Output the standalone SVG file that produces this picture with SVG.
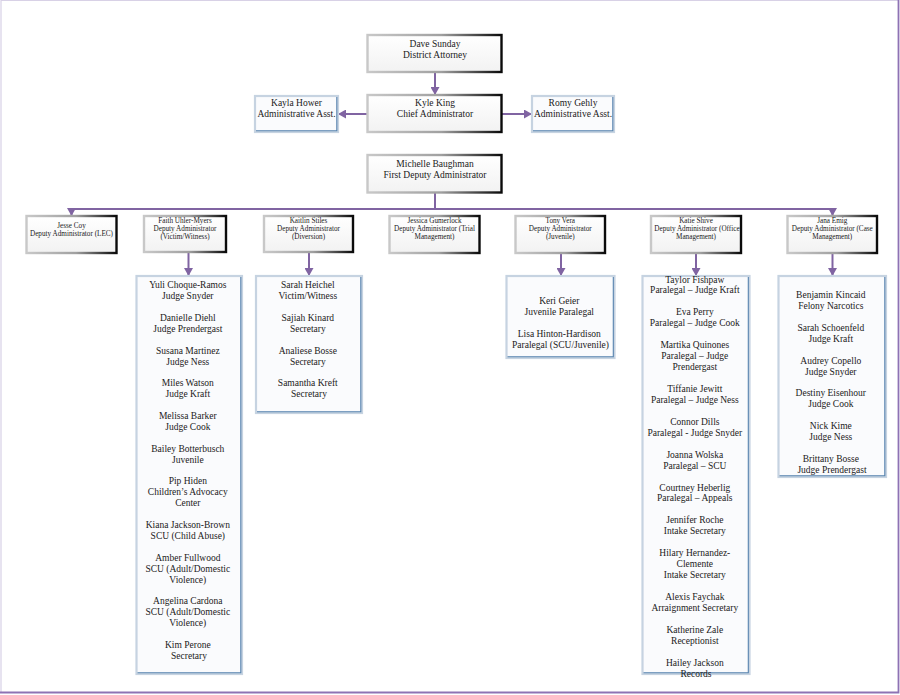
<svg xmlns="http://www.w3.org/2000/svg" width="900" height="695" viewBox="0 0 900 695">
<defs>
<style>
.t{font-family:"Liberation Serif","Times New Roman",serif;font-size:9.5px;fill:#1a1a1a;text-anchor:middle}
.d{font-family:"Liberation Serif","Times New Roman",serif;font-size:7.2px;fill:#1a1a1a;text-anchor:middle}
.bx{fill:url(#gfill);stroke:url(#gstroke);stroke-width:2.4}
.sb{fill:#fafbfd;stroke:#c6d3e1;stroke-width:2.2}
.sbi{fill:none;stroke:#5682ae;stroke-width:1.1}
.c{stroke:#8064a2;stroke-width:2;fill:none}
.ca{stroke:#8064a2;stroke-width:2;fill:none;marker-end:url(#ah)}
</style>
<linearGradient id="gstroke" x1="0" y1="0" x2="1" y2="0">
<stop offset="0" stop-color="#c8c8c8"/>
<stop offset="0.55" stop-color="#a0a0a0"/>
<stop offset="1" stop-color="#0a0a0a"/>
</linearGradient>
<linearGradient id="gfill" x1="0" y1="0" x2="0" y2="1">
<stop offset="0" stop-color="#ffffff"/>
<stop offset="1" stop-color="#f2f2f2"/>
</linearGradient>
<marker id="ah" markerUnits="userSpaceOnUse" markerWidth="9" markerHeight="9" refX="8" refY="4.5" orient="auto">
<path d="M0,0 L8,4.5 L0,9 z" fill="#8064a2"/>
</marker>
</defs>
<rect x="0" y="0" width="900" height="695" fill="#ffffff"/>
<path d="M1,693 L1,0.5 L898,0.5" fill="none" stroke="#d8d1e6" stroke-width="1.2"/>
<path d="M898.5,0 L898.5,692.5 L0,692.5" fill="none" stroke="#8e72b4" stroke-width="1.8"/>

<g id="connectors">
<line class="ca" x1="435" y1="72" x2="435" y2="95"/>
<line class="ca" x1="367" y1="114" x2="338" y2="114"/>
<line class="ca" x1="502" y1="114" x2="532" y2="114"/>
<line class="c" x1="435" y1="193" x2="435" y2="209"/>
<line class="c" x1="70.5" y1="209" x2="833.5" y2="209"/>
<line class="ca" x1="71.5" y1="208" x2="71.5" y2="216"/>
<line class="ca" x1="832.5" y1="208" x2="832.5" y2="216"/>
<line class="ca" x1="188.5" y1="252" x2="188.5" y2="276"/>
<line class="ca" x1="309" y1="252" x2="309" y2="276"/>
<line class="ca" x1="561" y1="253" x2="561" y2="276"/>
<line class="ca" x1="696" y1="253" x2="696" y2="276"/>
<line class="ca" x1="832.5" y1="253" x2="832.5" y2="276"/>
</g>

<g id="dave-sunday">
<rect class="bx" x="367.5" y="35" width="134" height="37"/>
<text class="t" x="435" y="47.3">Dave Sunday</text>
<text class="t" x="435" y="58.3">District Attorney</text>
</g>
<g id="kyle-king">
<rect class="bx" x="367.5" y="95" width="134" height="37"/>
<text class="t" x="435" y="105.8">Kyle King</text>
<text class="t" x="435" y="116.8">Chief Administrator</text>
</g>
<g id="michelle-baughman">
<rect class="bx" x="367.5" y="155" width="134" height="37.5"/>
<text class="t" x="435" y="166.6">Michelle Baughman</text>
<text class="t" x="435" y="177.6">First Deputy Administrator</text>
</g>
<g id="kayla-hower">
<rect class="sb" x="255" y="96" width="83" height="36"/>
<path class="sbi" d="M336.8,97 L336.8,130.8 L256,130.8"/>
<text class="t" x="296.5" y="106">Kayla Hower</text>
<text class="t" x="296.5" y="117">Administrative Asst.</text>
</g>
<g id="romy-gehly">
<rect class="sb" x="532" y="96" width="82" height="36"/>
<path class="sbi" d="M612.8,97 L612.8,130.8 L533,130.8"/>
<text class="t" x="573" y="106">Romy Gehly</text>
<text class="t" x="573" y="117">Administrative Asst.</text>
</g>

<g id="jesse-coy">
<rect class="bx" x="26.5" y="216" width="90" height="37"/>
<text class="d" x="71.5" y="228.1">Jesse Coy</text>
<text class="d" x="71.5" y="236.1">Deputy Administrator (LEC)</text>
</g>
<g id="faith-uhler-myers">
<rect class="bx" x="144" y="216" width="82" height="36"/>
<text class="d" x="185" y="223.1">Faith Uhler-Myers</text>
<text class="d" x="185" y="231.1">Deputy Administrator</text>
<text class="d" x="185" y="239.3">(Victim/Witness)</text>
</g>
<g id="kaitlin-stiles">
<rect class="bx" x="264" y="216" width="89" height="36"/>
<text class="d" x="308.5" y="223.1">Kaitlin Stiles</text>
<text class="d" x="308.5" y="231.1">Deputy Administrator</text>
<text class="d" x="308.5" y="239.3">(Diversion)</text>
</g>
<g id="jessica-gumerlock">
<rect class="bx" x="389.5" y="216" width="90" height="37"/>
<text class="d" x="434.5" y="223.1">Jessica Gumerlock</text>
<text class="d" x="434.5" y="231.1">Deputy Administrator (Trial</text>
<text class="d" x="434.5" y="239.3">Management)</text>
</g>
<g id="tony-vera">
<rect class="bx" x="515.5" y="216" width="89.5" height="37"/>
<text class="d" x="560.3" y="223.1">Tony Vera</text>
<text class="d" x="560.3" y="231.1">Deputy Administrator</text>
<text class="d" x="560.3" y="239.3">(Juvenile)</text>
</g>
<g id="katie-shive">
<rect class="bx" x="651" y="216" width="90" height="37"/>
<text class="d" x="696" y="223.1">Katie Shive</text>
<text class="d" x="697" y="231.1">Deputy Administrator (Office</text>
<text class="d" x="696" y="239.3">Management)</text>
</g>
<g id="jana-emig">
<rect class="bx" x="787.5" y="216" width="89.5" height="37"/>
<text class="d" x="832.3" y="223.1">Jana Emig</text>
<text class="d" x="832.3" y="231.1">Deputy Administrator (Case</text>
<text class="d" x="832.3" y="239.3">Management)</text>
</g>

<g id="victim-witness-staff">
<rect class="sb" x="136.5" y="276" width="105.5" height="398"/>
<path class="sbi" d="M240.8,277 L240.8,672.8 L137.5,672.8"/>
<text class="t" y="288.2">
<tspan x="189">Yuli Choque-Ramos</tspan>
<tspan x="189" dy="10.9">Judge Snyder</tspan>
<tspan x="189" dy="21.8">Danielle Diehl</tspan>
<tspan x="189" dy="10.9">Judge Prendergast</tspan>
<tspan x="189" dy="21.8">Susana Martinez</tspan>
<tspan x="189" dy="10.9">Judge Ness</tspan>
<tspan x="189" dy="21.8">Miles Watson</tspan>
<tspan x="189" dy="10.9">Judge Kraft</tspan>
<tspan x="189" dy="21.8">Melissa Barker</tspan>
<tspan x="189" dy="10.9">Judge Cook</tspan>
<tspan x="189" dy="21.8">Bailey Botterbusch</tspan>
<tspan x="189" dy="10.9">Juvenile</tspan>
<tspan x="189" dy="21.8">Pip Hiden</tspan>
<tspan x="189" dy="10.9">Children’s Advocacy</tspan>
<tspan x="189" dy="10.9">Center</tspan>
<tspan x="189" dy="21.8">Kiana Jackson-Brown</tspan>
<tspan x="189" dy="10.9">SCU (Child Abuse)</tspan>
<tspan x="189" dy="21.8">Amber Fullwood</tspan>
<tspan x="189" dy="10.9">SCU (Adult/Domestic</tspan>
<tspan x="189" dy="10.9">Violence)</tspan>
<tspan x="189" dy="21.8">Angelina Cardona</tspan>
<tspan x="189" dy="10.9">SCU (Adult/Domestic</tspan>
<tspan x="189" dy="10.9">Violence)</tspan>
<tspan x="189" dy="21.8">Kim Perone</tspan>
<tspan x="189" dy="10.9">Secretary</tspan>
</text>
</g>

<g id="diversion-staff">
<rect class="sb" x="256" y="276" width="106" height="137"/>
<path class="sbi" d="M360.8,277 L360.8,411.8 L257,411.8"/>
<text class="t" y="288.2">
<tspan x="309">Sarah Heichel</tspan>
<tspan x="309" dy="10.9">Victim/Witness</tspan>
<tspan x="309" dy="21.8">Sajiah Kinard</tspan>
<tspan x="309" dy="10.9">Secretary</tspan>
<tspan x="309" dy="21.8">Analiese Bosse</tspan>
<tspan x="309" dy="10.9">Secretary</tspan>
<tspan x="309" dy="21.8">Samantha Kreft</tspan>
<tspan x="309" dy="10.9">Secretary</tspan>
</text>
</g>

<g id="juvenile-staff">
<rect class="sb" x="506.5" y="276" width="108" height="82"/>
<path class="sbi" d="M613.3,277 L613.3,356.8 L507.5,356.8"/>
<text class="t" y="303.9">
<tspan x="560.5">Keri Geier</tspan>
<tspan x="560.5" dy="10.9">Juvenile Paralegal</tspan>
<tspan x="560.5" dy="21.8">Lisa Hinton-Hardison</tspan>
<tspan x="560.5" dy="10.9">Paralegal (SCU/Juvenile)</tspan>
</text>
</g>

<g id="office-management-staff">
<rect class="sb" x="642.5" y="276" width="107" height="398"/>
<path class="sbi" d="M748.3,277 L748.3,672.8 L643.5,672.8"/>
<text class="t" y="282.5">
<tspan x="696">Taylor Fishpaw</tspan>
<tspan x="696" dy="10.95">Paralegal – Judge Kraft</tspan>
<tspan x="696" dy="21.9">Eva Perry</tspan>
<tspan x="696" dy="10.95">Paralegal – Judge  Cook</tspan>
<tspan x="696" dy="21.9">Martika Quinones</tspan>
<tspan x="696" dy="10.95">Paralegal – Judge</tspan>
<tspan x="696" dy="10.95">Prendergast</tspan>
<tspan x="696" dy="21.9">Tiffanie Jewitt</tspan>
<tspan x="696" dy="10.95">Paralegal – Judge Ness</tspan>
<tspan x="696" dy="21.9">Connor Dills</tspan>
<tspan x="696" dy="10.95">Paralegal - Judge Snyder</tspan>
<tspan x="696" dy="21.9">Joanna Wolska</tspan>
<tspan x="696" dy="10.95">Paralegal – SCU</tspan>
<tspan x="696" dy="21.9">Courtney Heberlig</tspan>
<tspan x="696" dy="10.95">Paralegal – Appeals</tspan>
<tspan x="696" dy="21.9">Jennifer Roche</tspan>
<tspan x="696" dy="10.95">Intake Secretary</tspan>
<tspan x="696" dy="21.9">Hilary Hernandez-</tspan>
<tspan x="696" dy="10.95">Clemente</tspan>
<tspan x="696" dy="10.95">Intake Secretary</tspan>
<tspan x="696" dy="21.9">Alexis Faychak</tspan>
<tspan x="696" dy="10.95">Arraignment Secretary</tspan>
<tspan x="696" dy="21.9">Katherine Zale</tspan>
<tspan x="696" dy="10.95">Receptionist</tspan>
<tspan x="696" dy="21.9">Hailey Jackson</tspan>
<tspan x="696" dy="10.95">Records</tspan>
</text>
</g>

<g id="case-management-staff">
<rect class="sb" x="778.5" y="276" width="107.5" height="201"/>
<path class="sbi" d="M884.8,277 L884.8,475.8 L779.5,475.8"/>
<text class="t" y="298.2">
<tspan x="832">Benjamin Kincaid</tspan>
<tspan x="832" dy="10.9">Felony Narcotics</tspan>
<tspan x="832" dy="21.8">Sarah Schoenfeld</tspan>
<tspan x="832" dy="10.9">Judge Kraft</tspan>
<tspan x="832" dy="21.8">Audrey Copello</tspan>
<tspan x="832" dy="10.9">Judge Snyder</tspan>
<tspan x="832" dy="21.8">Destiny Eisenhour</tspan>
<tspan x="832" dy="10.9">Judge Cook</tspan>
<tspan x="832" dy="21.8">Nick Kime</tspan>
<tspan x="832" dy="10.9">Judge Ness</tspan>
<tspan x="832" dy="21.8">Brittany Bosse</tspan>
<tspan x="832" dy="10.9">Judge Prendergast</tspan>
</text>
</g>
</svg>
